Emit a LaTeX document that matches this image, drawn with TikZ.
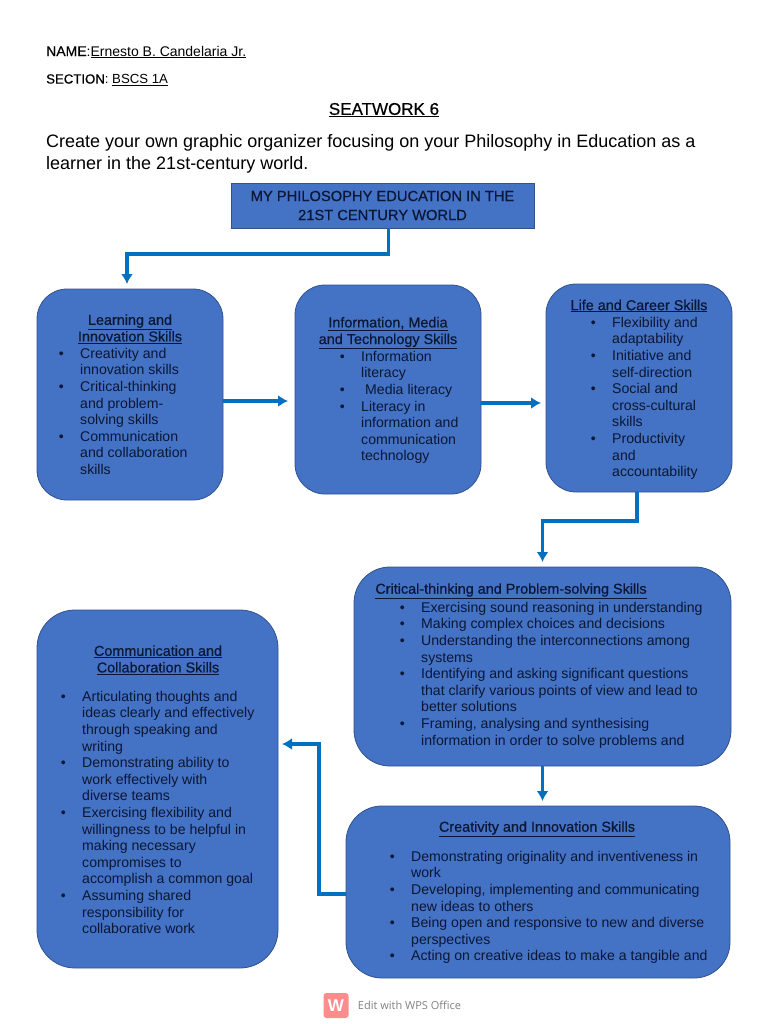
\documentclass[tikz,border=0pt]{standalone}
\usepackage{fontspec}
\setmainfont{Liberation Sans}
\newfontfamily\medfont[FakeBold=0.5]{Liberation Sans}
\newfontfamily\wpsfont{Open Sans}
\usepackage{xcolor}
\usetikzlibrary{arrows.meta,positioning,calc}
\definecolor{boxblue}{HTML}{4472C4}
\definecolor{boxedge}{HTML}{2F528F}
\definecolor{arrowblue}{HTML}{0070C0}
\definecolor{inkdark}{HTML}{0B1735}
\newcommand{\bulitem}{\leavevmode\llap{\textbullet\hspace{16.5pt}}\strut}

\begin{document}
\begin{tikzpicture}[
  x=1pt, y=-1pt,
  font=\fontsize{14.1}{16.6}\selectfont,
  card/.style={draw=boxedge, fill=boxblue, line width=0.8pt, rounded corners=30pt, inner sep=0pt, outer sep=0pt},
  headtxt/.style={inner sep=0pt, align=center, text=inkdark, font=\fontsize{14.4}{16.6}\selectfont\medfont},
  listtxt/.style={inner sep=0pt, align=left, anchor=north west, text=inkdark},
  pagetxt/.style={inner sep=0pt, align=left, anchor=west, text=black},
  arr/.style={-{Latex[length=10pt,width=12pt]}, arrowblue, line width=3.6pt, shorten >=5pt}
]
\useasboundingbox (0,0) rectangle (768,1024);

% page heading
\node[pagetxt, font=\fontsize{14}{16.5}\selectfont] (name) at (46,52) {{\medfont NAME}:\underline{Ernesto B. Candelaria Jr.}};
\node[pagetxt, font=\fontsize{13.2}{16.5}\selectfont] (section) at (46,80) {{\medfont SECTION}: \underline{BSCS 1A}};
\node[inner sep=0pt, font=\fontsize{17}{20}\selectfont\medfont] (seat) at (384,110) {\underline{SEATWORK 6}};
\node[inner sep=0pt, align=left, anchor=north west, font=\fontsize{18}{22}\selectfont] (task) at (46,134) {Create your own graphic organizer focusing on your Philosophy in Education as a\\learner in the 21st-century world.};

% boxes
\node[card, rounded corners=0pt, minimum width=303pt, minimum height=45pt, align=center, text=inkdark, font=\fontsize{14.7}{19}\selectfont\medfont] (top) at (382.5,205.5) {MY PHILOSOPHY EDUCATION IN THE\\21ST CENTURY WORLD};
\node[card, minimum width=186pt, minimum height=211pt] (learn) at (130,394.5) {};
\node[card, minimum width=186pt, minimum height=209pt, right=72pt of learn, yshift=5pt] (info) {};
\node[card, minimum width=186pt, minimum height=208pt, right=65pt of info, yshift=1.5pt] (life) {};
\node[card, rounded corners=36pt, minimum width=377pt, minimum height=199pt, below=75pt of life, xshift=-96.5pt] (crit) {};
\node[card, rounded corners=36pt, minimum width=384pt, minimum height=172pt, below=40pt of crit, xshift=-4.5pt] (creat) {};
\node[card, rounded corners=38pt, minimum width=241pt, minimum height=358pt, left=68pt of creat, yshift=103pt] (comm) {};

% box texts
\node[headtxt] (learnhead) at (130,329) {\underline{Learning and}\\\underline{Innovation Skills}};
\node[listtxt] (learnlist) at (80,346.5) {\bulitem Creativity and\\innovation skills\\\bulitem Critical-thinking\\and problem-\\solving skills\\\bulitem Communication\\and collaboration\\skills};
\node[headtxt] (infohead) at (388,333) {\underline{Information, Media}\\\underline{and Technology Skills}};
\node[listtxt] (infolist) at (361,349.5) {\bulitem Information\\literacy\\\bulitem\hspace{4pt}Media literacy\\\bulitem Literacy in\\information and\\communication\\technology};
\node[headtxt] (lifehead) at (639,306) {\underline{Life and Career Skills}};
\node[listtxt] (lifelist) at (612,315.5) {\bulitem Flexibility and\\adaptability\\\bulitem Initiative and\\self-direction\\\bulitem Social and\\cross-cultural\\skills\\\bulitem Productivity\\and\\accountability};
\node[headtxt] (crithead) at (511,591) {\underline{Critical-thinking and Problem-solving Skills}};
\node[listtxt] (critlist) at (421,600.5) {\bulitem Exercising sound reasoning in understanding\\\bulitem Making complex choices and decisions\\\bulitem Understanding the interconnections among\\systems\\\bulitem Identifying and asking significant questions\\that clarify various points of view and lead to\\better solutions\\\bulitem Framing, analysing and synthesising\\information in order to solve problems and};
\node[headtxt] (creathead) at (537,829) {\underline{Creativity and Innovation Skills}};
\node[listtxt] (creatlist) at (411,849.5) {\bulitem Demonstrating originality and inventiveness in\\work\\\bulitem Developing, implementing and communicating\\new ideas to others\\\bulitem Being open and responsive to new and diverse\\perspectives\\\bulitem Acting on creative ideas to make a tangible and};
\node[headtxt] (commhead) at (158,660) {\underline{Communication and}\\\underline{Collaboration Skills}};
\node[listtxt] (commlist) at (82,689.5) {\bulitem Articulating thoughts and\\ideas clearly and effectively\\through speaking and\\writing\\\bulitem Demonstrating ability to\\work effectively with\\diverse teams\\\bulitem Exercising flexibility and\\willingness to be helpful in\\making necessary\\compromises to\\accomplish a common goal\\\bulitem Assuming shared\\responsibility for\\collaborative work};

% connectors
\draw[arr] ([xshift=6pt]top.south) -- ++(0,26) -| ([xshift=-3pt]learn.north);
\draw[arr, shorten >=7pt] ([yshift=-6.5pt]learn.east) -- ([yshift=-11.5pt]info.west);
\draw[arr] ([yshift=-13.5pt]info.east) -- ([yshift=-15pt]life.west);
\draw[arr] ([xshift=-2pt]life.south) -- ++(0,29) -| (crit.north);
\draw[arr] (crit.south) -- (crit.south |- creat.north);
\draw[arr, shorten >=4pt] ([yshift=-2pt]creat.west) -- ++(-27,0) |- ([yshift=45pt]comm.east);

% watermark
\node[fill=red!45!white, rounded corners=3pt, minimum width=25pt, minimum height=25pt, inner sep=0pt, text=white, font=\fontsize{17}{17}\selectfont\bfseries] (wpslogo) at (336,1005.5) {W};
\node[inner sep=0pt, anchor=west, right=9pt of wpslogo, text=black!50, font=\fontsize{11}{12}\selectfont\wpsfont] (wpstxt) {Edit with WPS Office};
\end{tikzpicture}
\end{document}
